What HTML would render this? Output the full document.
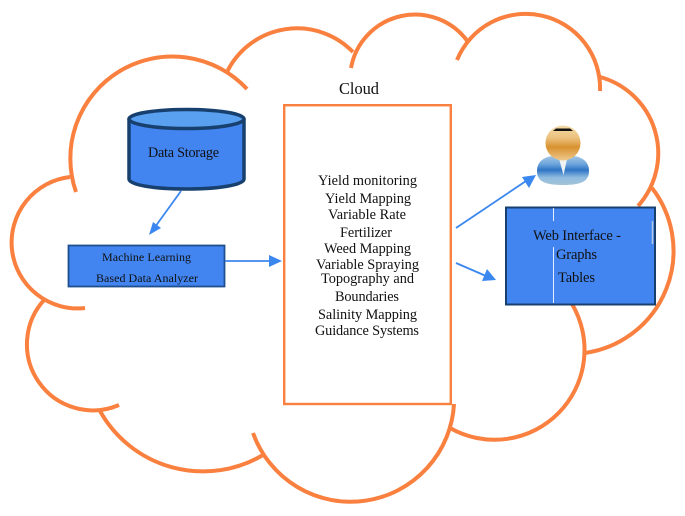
<!DOCTYPE html>
<html>
<head>
<meta charset="utf-8">
<style>
html,body{margin:0;padding:0;background:#fff;width:685px;height:516px;overflow:hidden}
svg{display:block;filter:blur(0.35px)}
text{font-family:"Liberation Serif",serif;fill:#111}
</style>
</head>
<body>
<svg width="685" height="516" viewBox="0 0 685 516" xmlns="http://www.w3.org/2000/svg">
<defs>
<linearGradient id="hd" x1="0" y1="0" x2="0" y2="1">
<stop offset="0" stop-color="#f3d9a8"/><stop offset="0.35" stop-color="#ecc27e"/><stop offset="0.62" stop-color="#d9922f"/><stop offset="1" stop-color="#eec98e"/>
</linearGradient>
<linearGradient id="bd" x1="0" y1="0" x2="0" y2="1">
<stop offset="0" stop-color="#a9c9e6"/><stop offset="0.3" stop-color="#6ea6dc"/><stop offset="0.5" stop-color="#2f74c4"/><stop offset="0.75" stop-color="#8fbce0"/><stop offset="1" stop-color="#a5c4d8"/>
</linearGradient>
</defs>

<g fill="none" stroke="#f9803f" stroke-width="4">
<path d="M76 192A102 102 0 0 1 247 89"/>
<path d="M227 72A78 78 0 0 1 353 52"/>
<path d="M351 68A65 65 0 0 1 468 42"/>
<path d="M457 60A74.300 74.300 0 0 1 600 91"/>
<path d="M600 77A79 79 0 0 1 638 206"/>
<path d="M652 188A103 103 0 0 1 585 353"/>
<path d="M572 304A90 90 0 0 1 450 428"/>
<path d="M454 404A103.600 103.600 0 0 1 253 433"/>
<path d="M263 455A118 118 0 0 1 100 411"/>
<path d="M119 405A66 66 0 0 1 45 299"/>
<path d="M85 308A65 65 0 0 1 70 177"/>
</g>

<rect x="284.2" y="105.2" width="166.6" height="298.8" fill="none" stroke="#f9803f" stroke-width="2.4"/>

<path d="M129 119V179C129 185 155 189 186.500 189C218 189 244 185 244 179V119Z" fill="#4285f0" stroke="#17406f" stroke-width="3.5" stroke-linejoin="round"/>
<ellipse cx="186.500" cy="119" rx="57.500" ry="9.500" fill="#5aa0f0" stroke="#17406f" stroke-width="3.5"/>
<text x="148" y="157" font-size="14.2" textLength="71" lengthAdjust="spacing">Data Storage</text>

<rect x="68.500" y="245.500" width="156" height="41" fill="#4285f0" stroke="#1f4f8f" stroke-width="1.800"/>
<text x="102" y="261" font-size="12" textLength="89" lengthAdjust="spacing">Machine Learning</text>
<text x="96" y="282" font-size="12" textLength="102" lengthAdjust="spacing">Based Data Analyzer</text>

<rect x="506" y="207.500" width="149" height="97" fill="#4285f0" stroke="#17406f" stroke-width="2"/>
<path d="M553.500 208V221M553.500 247V303" stroke="#e4edfb" stroke-width="1"/>
<path d="M652.500 221V244" stroke="#b4c8e4" stroke-width="1.500"/>
<text x="533" y="240" font-size="14.500" textLength="88" lengthAdjust="spacing">Web Interface -</text>
<text x="556" y="259" font-size="14.500" textLength="41" lengthAdjust="spacing">Graphs</text>
<text x="558" y="282" font-size="14.500" textLength="37" lengthAdjust="spacing">Tables</text>

<text x="339" y="94" font-size="16.400" textLength="40" lengthAdjust="spacing">Cloud</text>

<g font-size="14.300" lengthAdjust="spacing">
<text x="318" y="185" textLength="99">Yield monitoring</text>
<text x="325" y="203" textLength="86">Yield Mapping</text>
<text x="328" y="219" textLength="78">Variable Rate</text>
<text x="340" y="237" textLength="52">Fertilizer</text>
<text x="324" y="253" textLength="87">Weed Mapping</text>
<text x="316" y="269" textLength="103">Variable Spraying</text>
<text x="321" y="283" textLength="93">Topography and</text>
<text x="335" y="301" textLength="64">Boundaries</text>
<text x="318" y="319" textLength="99">Salinity Mapping</text>
<text x="315" y="335" textLength="104">Guidance Systems</text>
</g>

<g stroke="#3b87f0" stroke-width="1.800" fill="none">
<path d="M181 191L155 227"/>
<path d="M225 261H272"/>
<path d="M456 228L526 181"/>
<path d="M456 263L486 276"/>
</g>
<g fill="#3b87f0">
<path d="M149 235L153 222L161 228Z"/>
<path d="M282 261L269 255V267Z"/>
<path d="M536 175L529 188L522 177Z"/>
<path d="M496 280L482 281L487 269Z"/>
</g>

<path d="M537 171C537 160 546 155 563 155C580 155 589 160 589 171C589 181 582 185 563 185C544 185 537 181 537 171Z" fill="url(#bd)"/>
<path d="M558 155L568 155L563.500 175Z" fill="#eef2f2"/>
<circle cx="563" cy="143" r="17.500" fill="url(#hd)"/>
<path d="M553 131L573 131L570 128.500L556 128.500Z" fill="#111"/>
</svg>
</body>
</html>
